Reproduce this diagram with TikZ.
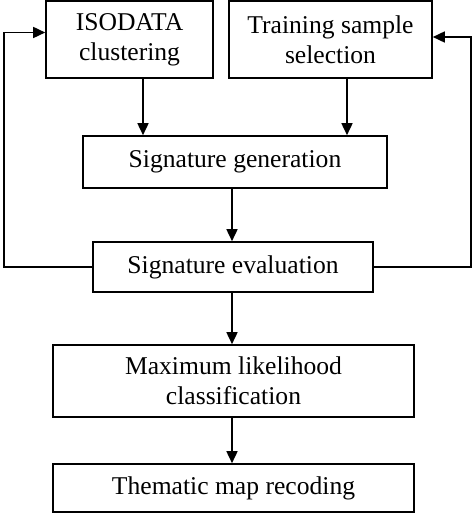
\documentclass[tikz,border=0pt]{standalone}
\usepackage{fontspec}
\setmainfont{Liberation Serif}
\usetikzlibrary{arrows.meta}
\begin{document}
\begin{tikzpicture}[x=1pt,y=-1pt,line width=1.6pt,
  box/.style={draw,align=center,inner sep=0pt,font=\fontsize{25.6}{30}\selectfont},
  arr/.style={-{Triangle[length=12pt,width=11pt]}}]
\useasboundingbox (0,0) rectangle (474,516);
\node[box,minimum width=167pt,minimum height=77pt] (iso) at (129.5,39.5) {ISODATA\\clustering};
\node[box,minimum width=203pt,minimum height=77pt] (train) at (330.5,39.5) {Training sample\\selection};
\node[box,minimum width=304pt,minimum height=52pt] (gen) at (235,162) {Signature generation};
\node[box,minimum width=280pt,minimum height=50pt] (eval) at (233,267) {Signature evaluation};
\node[box,minimum width=361pt,minimum height=72pt] (ml) at (233.5,381) {Maximum likelihood\\classification};
\node[box,minimum width=361pt,minimum height=48pt] (them) at (233.5,488) {Thematic map recoding};
\coordinate (lft) at (4,267); \coordinate (rgt) at (471,267);
\draw[arr] ([xshift=13.5pt]iso.south) -- ([xshift=13.5pt]iso.south |- gen.north);
\draw[arr] ([xshift=16.5pt]train.south) -- ([xshift=16.5pt]train.south |- gen.north);
\draw[arr] ([xshift=-3pt]gen.south) -- ([xshift=-3pt]gen.south |- eval.north);
\draw[arr] ([xshift=-1pt]eval.south) -- ([xshift=-1.5pt]ml.north);
\draw[arr] ([xshift=-1.5pt]ml.south) -- ([xshift=-1.5pt]them.north);
\draw[arr] (eval.west) -- (lft) |- ([yshift=7pt]iso.west);
\draw[arr] (eval.east) -- (rgt) |- ([yshift=2.5pt]train.east);
\end{tikzpicture}
\end{document}
